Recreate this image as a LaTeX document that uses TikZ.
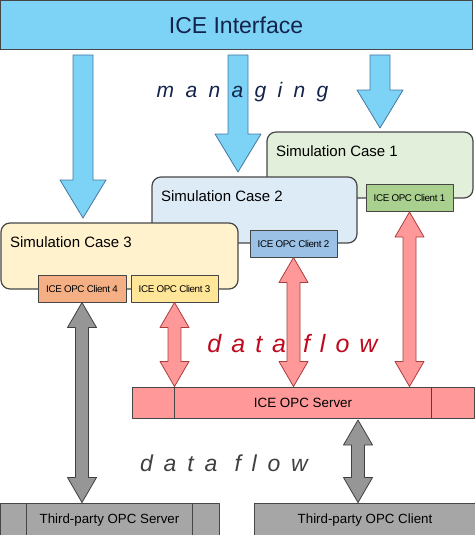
\documentclass[tikz,border=0pt]{standalone}
\usepackage{fontspec}
\setmainfont{Liberation Sans}
\usepackage{tikz}
\usetikzlibrary{calc}
\definecolor{iceblue}{RGB}{125,211,245}
\definecolor{arrowblue}{RGB}{70,120,160}
\definecolor{navytext}{RGB}{20,35,75}
\definecolor{caseline}{RGB}{70,70,70}
\definecolor{casegreen}{RGB}{226,239,218}
\definecolor{caseblue}{RGB}{221,235,247}
\definecolor{caseyellow}{RGB}{255,242,204}
\definecolor{clientgreen}{RGB}{169,208,142}
\definecolor{clientblue}{RGB}{155,194,230}
\definecolor{clientorange}{RGB}{244,176,132}
\definecolor{clientyellow}{RGB}{255,230,153}
\definecolor{serverred}{RGB}{255,153,153}
\definecolor{redline}{RGB}{170,60,60}
\definecolor{flowred}{RGB}{190,10,30}
\definecolor{bargray}{RGB}{166,166,166}
\definecolor{arrowgray}{RGB}{150,150,150}
\definecolor{flowgray}{RGB}{64,64,64}
\tikzset{
	bar/.style      = {draw=caseline, line width=1pt, rectangle, inner sep=0pt},
	simcase/.style  = {draw=caseline, line width=1.2pt, rectangle, rounded corners=9pt,
		minimum height = 66pt},
	casetitle/.style = {anchor=north west, inner sep=0pt, xshift=9.5pt, yshift=-14pt,
		font=\fontsize{15}{18}\selectfont},
	client/.style   = {draw=caseline, line width=1pt, rectangle, inner sep=0pt,
		minimum height = 27pt,
		minimum width = 87pt,
		font=\fontsize{9.8}{11}\selectfont\addfontfeature{LetterSpace=-4}},
	fatarrow/.style n args = {3}{to path={
		let \p1=(\tikztostart), \p2=(\tikztotarget) in
		(\x1-#1,\y1) -- (\x1-#1,\y2+#3) -- (\x1-#2,\y2+#3) -- (\x1,\y2)
		-- (\x1+#2,\y2+#3) -- (\x1+#1,\y2+#3) -- (\x1+#1,\y1) -- cycle}},
	dblarrow/.style n args = {3}{to path={
		let \p1=(\tikztostart), \p2=(\tikztotarget) in
		(\x1,\y1) -- (\x1+#2,\y1-#3) -- (\x1+#1,\y1-#3) -- (\x1+#1,\y2+#3)
		-- (\x1+#2,\y2+#3) -- (\x1,\y2) -- (\x1-#2,\y2+#3) -- (\x1-#1,\y2+#3)
		-- (\x1-#1,\y1-#3) -- (\x1-#2,\y1-#3) -- cycle}},
	managearrow/.style = {fatarrow={10pt}{23pt}{38pt}, draw=arrowblue, fill=iceblue, line width=0.8pt},
	redflow/.style     = {dblarrow={6.5pt}{14.5pt}{25pt}, draw=redline, fill=serverred, line width=0.8pt},
	grayflow/.style    = {dblarrow={6.5pt}{14.5pt}{25pt}, draw=flowgray, fill=arrowgray, line width=0.8pt},
	flowtext/.style    = {anchor=base, inner sep=0pt, font=\itshape},
}

\begin{document}
\begin{tikzpicture}[ x=1pt, y=-1pt,               %<--one unit is one pixel, y runs down
					line join=round,              %<--corners of the fat arrows
					every node/.style={scale=1} ]
	\useasboundingbox (0,0) rectangle (474,535);

	\draw%-----------------------------------------------------------------------------------------
	%Drawing the Interface Bar:
	node(iface) at (236,25) [bar, fill=iceblue, minimum width=472pt, minimum height=49pt,
		text=navytext, font=\fontsize{23}{26}\selectfont] {ICE Interface}
	%Drawing the Simulation Cases:
	node(case1) at (370,165) [simcase, fill=casegreen, minimum width=206pt,
		label={[casetitle]north west:Simulation Case 1}] {}
	node(case2) at (254.5,210) [simcase, fill=caseblue, minimum width=205pt,
		label={[casetitle]north west:Simulation Case 2}] {}
	node(case3) at (119.5,256) [simcase, fill=caseyellow, minimum width=237pt,
		label={[casetitle]north west:Simulation Case 3}] {}
	%Drawing the OPC Clients:
	node(client1) at (409.5,198) [client, fill=clientgreen] {ICE OPC Client 1}
	node(client2) at (293.5,243.5) [client, fill=clientblue] {ICE OPC Client 2}
	node(client4) at (82,288.5) [client, fill=clientorange, minimum width=88pt] {ICE OPC Client 4}
	node(client3) at (174.5,288.5) [client, fill=clientyellow] {ICE OPC Client 3}
	%Drawing the Server Bars:
	node(opcserver) at (303,402.5) [bar, fill=serverred, minimum width=342pt, minimum height=31pt,
		font=\fontsize{13.4}{16}\selectfont] {ICE OPC Server}
	node(tpserver) at (109.5,520.5) [bar, fill=bargray, minimum width=219pt, minimum height=35pt,
		font=\fontsize{13.3}{16}\selectfont] {Third-party OPC Server}
	node(tpclient) at (365,520.5) [bar, fill=bargray, minimum width=222pt, minimum height=35pt,
		font=\fontsize{13.3}{16}\selectfont] {Third-party OPC Client}
	%Drawing the Arrow Ends:
	node[shape=coordinate][](m1) at (83,55){}
	node[shape=coordinate][](m2) at (238,55){}
	node[shape=coordinate][](m3) at (380,55){}
	node[shape=coordinate][](t1) at (83,218){}
	node[shape=coordinate][](t2) at (238,172){}
	node[shape=coordinate][](t3) at (380,128){}
	node[shape=coordinate][](g1) at (358,420){}
	;%---------------------------------------------------------------------------------------------

	%Bar dividers
	\foreach \barname/\gap in {opcserver/43, tpserver/27}{
		\draw[caseline, line width=1pt] ([xshift=\gap pt]\barname.north west) -- ([xshift=\gap pt]\barname.south west);
		\draw[caseline, line width=1pt] ([xshift=-\gap pt]\barname.north east) -- ([xshift=-\gap pt]\barname.south east);
	}

	%Joining the Blocks
	\draw[managearrow] (m1) to (t1);
	\draw[managearrow] (m2) to (t2);
	\draw[managearrow] (m3) to (t3);

	\draw[redflow] (client3.south) to (client3.south |- opcserver.north);
	\draw[redflow] (client2.south) to (client2.south |- opcserver.north);
	\draw[redflow] (client1.south) to (client1.south |- opcserver.north);

	\draw[grayflow] (client4.south) to (client4.south |- tpserver.north);
	\draw[grayflow] (g1) to (g1 |- tpclient.north);

	%Drawing the flow labels
	\draw%--------------------------------------------------------------
	node(managing) at (242.5,97) [flowtext, text=navytext,
		font=\fontsize{21}{24}\selectfont\itshape\addfontfeature{LetterSpace=54}] {managing}
	node(redlabel) at (292.5,352) [flowtext, text=flowred,
		font=\fontsize{25}{28}\selectfont\itshape\addfontfeature{LetterSpace=40}] {data flow}
	node(graylabel) at (224,471) [flowtext, text=flowgray,
		font=\fontsize{23}{26}\selectfont\itshape\addfontfeature{LetterSpace=47}] {data flow}
	;%------------------------------------------------------------------

\end{tikzpicture}
\end{document}
